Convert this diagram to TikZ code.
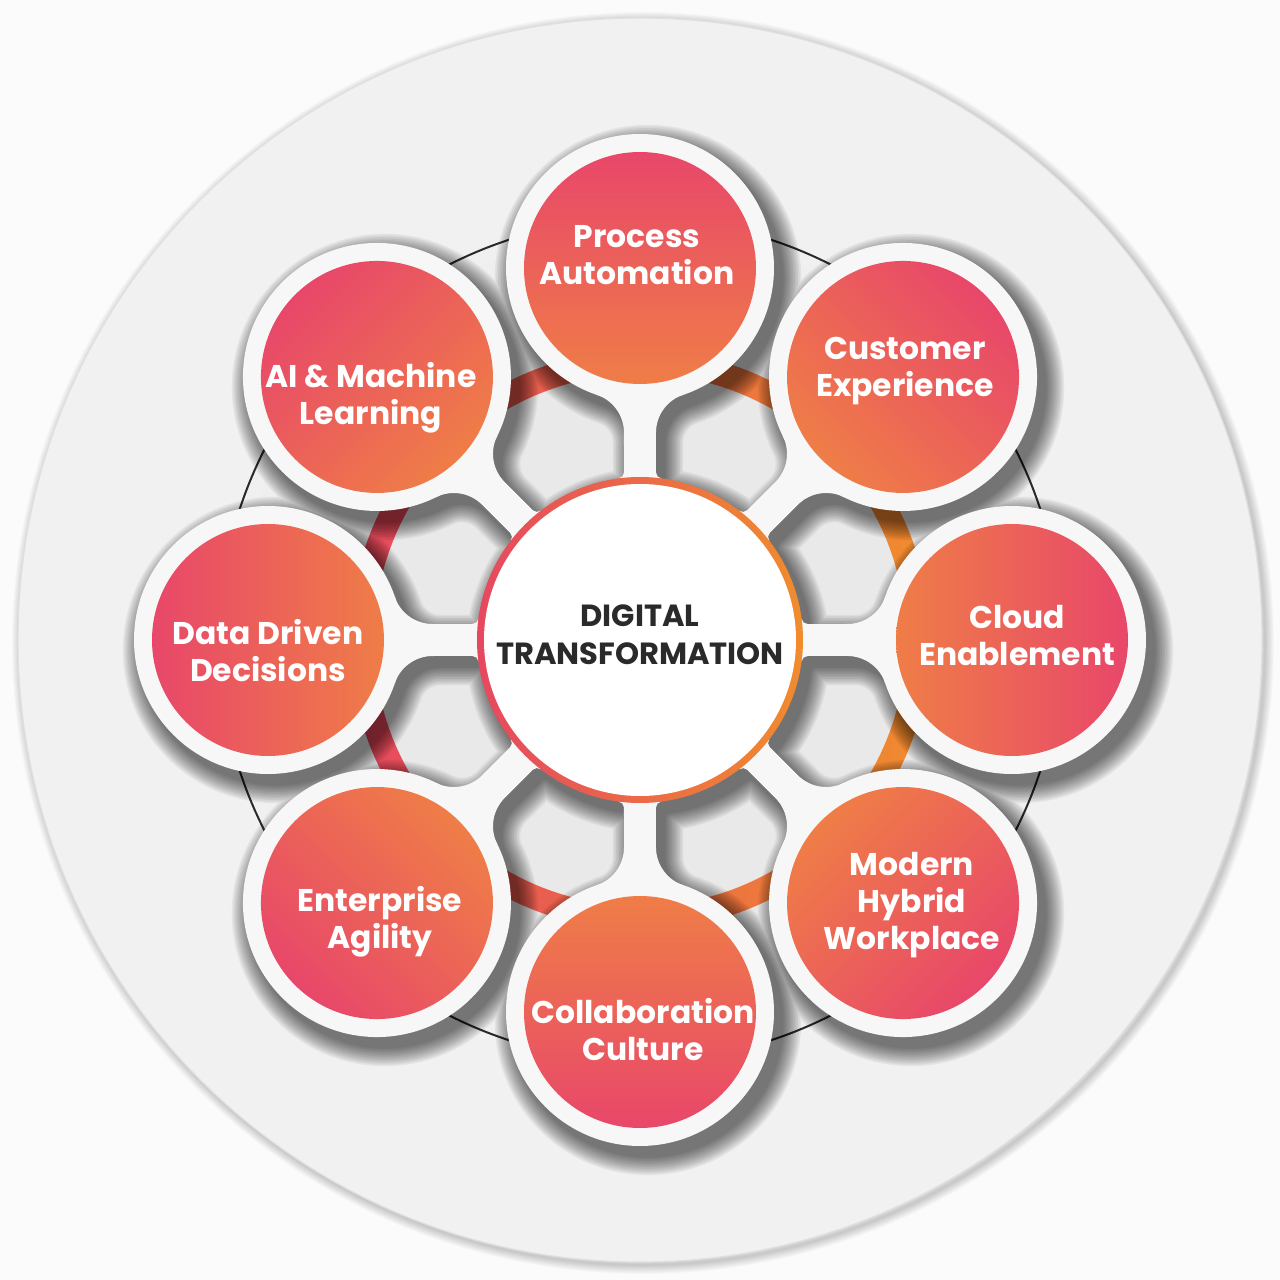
\documentclass[tikz,border=0pt]{standalone}
\usepackage{fontspec}
\setmainfont{Poppins}
\definecolor{cred}{HTML}{E8476A}
\definecolor{corange}{HTML}{EF7D47}
\definecolor{rred}{HTML}{E6485F}
\definecolor{rorange}{HTML}{F08C2E}
\definecolor{plate}{HTML}{F7F7F7}
\definecolor{surface}{HTML}{F1F1F1}
\definecolor{hole}{HTML}{E9E9E9}
\definecolor{ink}{HTML}{2A2A2A}
\definecolor{pagebg}{HTML}{FBFBFB}
\pgfdeclareradialshading{holeshade}{\pgfpointorigin}{color(0bp)=(hole); color(18bp)=(hole); color(25bp)=(surface); color(50bp)=(surface)}
\newcommand\neckfill[1]{\path[#1] (0,0) -- (161.6,21.2) arc[start angle=187.6,end angle=270,radius=6] -- (207.3,16) arc[start angle=270,end angle=341.2,radius=40] -- (372,0) -- (245.2,-43.1) arc[start angle=18.8,end angle=90,radius=40] -- (167.6,-16) arc[start angle=90,end angle=172.4,radius=6] -- cycle;}
\newcommand\outerfont{\fontsize{15.7pt}{18.5pt}\selectfont\bfseries}
\newcommand\centerfont{\fontsize{15.3pt}{19pt}\selectfont\bfseries}
\tikzset{
  halo/.style={circle, inner sep=0pt, minimum size=134pt, fill=plate},
  bubble/.style={circle, inner sep=0pt, minimum size=116pt},
  bubbletext/.style={inner sep=0pt, align=center, text=white, font=\outerfont},
  shadowpart/.style={fill=black, draw=black, line join=round, opacity=1},
}
\begin{document}
\begin{tikzpicture}[x=0.5pt, y=0.5pt]
\useasboundingbox (-640,-640) rectangle (640,640);
\fill[pagebg] (-640,-640) rectangle (640,640);
% big disc with soft shadow
\foreach \k in {1,...,10}{
  \pgfmathsetmacro\lw{0.9*\k}
  \draw[black, opacity=0.018, line width=\lw pt] (3,-3) circle (622);
}
\fill[surface] (0,0) circle (622);
\draw[black!12, line width=0.6pt] (0,0) circle (622);
% recessed inner area
\path[shading=holeshade] (0,0) circle (430);
% thin ring
\draw[ink, line width=1pt] (0,0) circle (421);
% coloured ring
\path[left color=rred, right color=rorange, even odd rule] (0,0) circle (290) (0,0) circle (266);
% soft shadows of the raised plate
\foreach \k in {1,...,12}{
  \pgfmathsetmacro\lw{1.6*\k}
  \begin{scope}[transparency group, opacity=0.055, shift={(8,-10)}]
    \path[shadowpart, line width=\lw pt] (0,0) circle (163);
    \foreach \a in {90,45,0,-45,-90,-135,180,135}{
      \path[shadowpart, line width=\lw pt] (\a:372) circle (134);
      \begin{scope}[rotate=\a]
        \neckfill{shadowpart, line width=\lw pt}
      \end{scope}
    }
  \end{scope}
}
% raised plate: necks
\foreach \a in {90,45,0,-45,-90,-135,180,135}{
  \begin{scope}[rotate=\a]
    \neckfill{fill=plate}
  \end{scope}
}
% centre
\node[circle, inner sep=0pt, minimum size=163pt, left color=rred, right color=rorange] (dtring) at (0,0) {};
\node[circle, inner sep=0pt, minimum size=156pt, fill=white] (dt) at (dtring.center) {};
\node[inner sep=0pt, align=center, text=ink, font=\centerfont] (dtt) at (0,5) {DIGITAL\\TRANSFORMATION};
% outer bubbles
\foreach \a/\t/\x/\y [count=\i, evaluate=\a as \sa using \a-90] in {
  90/Process\\Automation/-3/385,
  45/Customer\\Experience/265/269,
  0/Cloud\\Enablement/377/4,
  -45/Modern\\Hybrid\\Workplace/272/-265,
  -90/Collaboration\\Culture/3/-390,
  -135/Enterprise\\Agility/-260/-282,
  180/Data Driven\\Decisions/-372/-11,
  135/AI \& Machine\\Learning/-269/242}{
  \node[halo] (h\i) at (\a:372) {};
  \node[bubble, top color=cred, bottom color=corange, shading angle=\sa] (n\i) at (h\i.center) {};
  \node[bubbletext] (t\i) at (\x,\y) {\t};
}
\end{tikzpicture}
\end{document}
